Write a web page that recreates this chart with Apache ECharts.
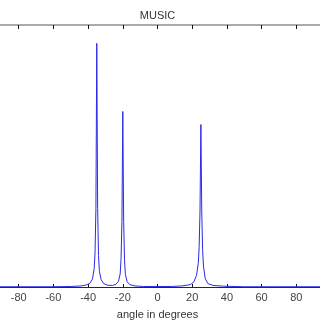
<!DOCTYPE html>
<html>
<head>
<meta charset="utf-8">
<script src="https://cdn.jsdelivr.net/npm/echarts@6/dist/echarts.min.js"></script>
<style>
  html, body { margin: 0; padding: 0; background: #fff; overflow: hidden; width: 320px; height: 320px; }
  /* the figure is cropped: the plot runs a bit past both edges of the picture */
  #chart { position: absolute; left: -16px; top: 0; width: 347px; height: 320px; }
</style>
</head>
<body>
<div id="chart"></div>
<script>
// MUSIC pseudo-spectrum (normalised)
const angles = [-100, -80, -60, -50, -44, -41, -39, -37.5, -36.5, -36, -35.5, -35, -34.5, -34, -33.5, -32.5, -31, -29, -26, -24, -22.5, -21.5, -21, -20.5, -20, -19.5, -19, -18.5, -17.5, -16, -13, -8, 0, 8, 14, 17, 19, 21, 22.5, 23.5, 24, 24.5, 25, 25.5, 26, 26.5, 27.5, 29, 32, 38, 50, 70, 100];
const spectrum = [0.001, 0.001, 0.001, 0.002, 0.004, 0.008, 0.014, 0.03, 0.07, 0.13, 0.3, 0.93, 0.3, 0.12, 0.06, 0.028, 0.013, 0.007, 0.006, 0.01, 0.022, 0.05, 0.11, 0.25, 0.67, 0.25, 0.1, 0.048, 0.02, 0.009, 0.004, 0.002, 0.002, 0.002, 0.004, 0.007, 0.009, 0.02, 0.045, 0.09, 0.15, 0.29, 0.62, 0.29, 0.14, 0.08, 0.032, 0.013, 0.006, 0.003, 0.001, 0.001, 0.001];

const chart = echarts.init(document.getElementById("chart"));

const axisBase = {
  type: "value",
  min: -100,
  max: 100,
  interval: 20,
  splitLine: { show: false }
};

chart.setOption({
  animation: false,
  title: {
    text: "MUSIC",
    left: "center",
    top: 5,
    textStyle: { fontFamily: "Arial", fontSize: 11, fontWeight: "normal", color: "#333" }
  },
  grid: { left: 0, right: 0, top: 25, bottom: 33, containLabel: false, outerBoundsMode: "none" },
  xAxis: [
    Object.assign({}, axisBase, {
      position: "bottom",
      name: "angle in degrees",
      nameLocation: "middle",
      nameGap: 22,
      nameTextStyle: { fontFamily: "Arial", fontSize: 11, color: "#333" },
      axisLine: { onZero: false, lineStyle: { color: "#222250", width: 1 } },
      axisTick: { inside: true, length: 3, lineStyle: { color: "#111" } },
      axisLabel: { fontFamily: "Arial", fontSize: 11, color: "#444", margin: 5, showMinLabel: false, showMaxLabel: false }
    }),
    Object.assign({}, axisBase, {
      position: "top",
      axisLine: { onZero: false, lineStyle: { color: "#aaa", width: 2 } },
      axisTick: { inside: true, length: 4, lineStyle: { color: "#111", width: 1 } },
      axisLabel: { show: false }
    })
  ],
  yAxis: {
    type: "value",
    min: 0,
    max: 1,
    show: false
  },
  series: [
    {
      type: "line",
      xAxisIndex: 0,
      data: angles.map((a, i) => [a, spectrum[i]]),
      showSymbol: false,
      smooth: false,
      lineStyle: { color: "#2a2ae8", width: 1 }
    }
  ]
});
</script>
</body>
</html>
